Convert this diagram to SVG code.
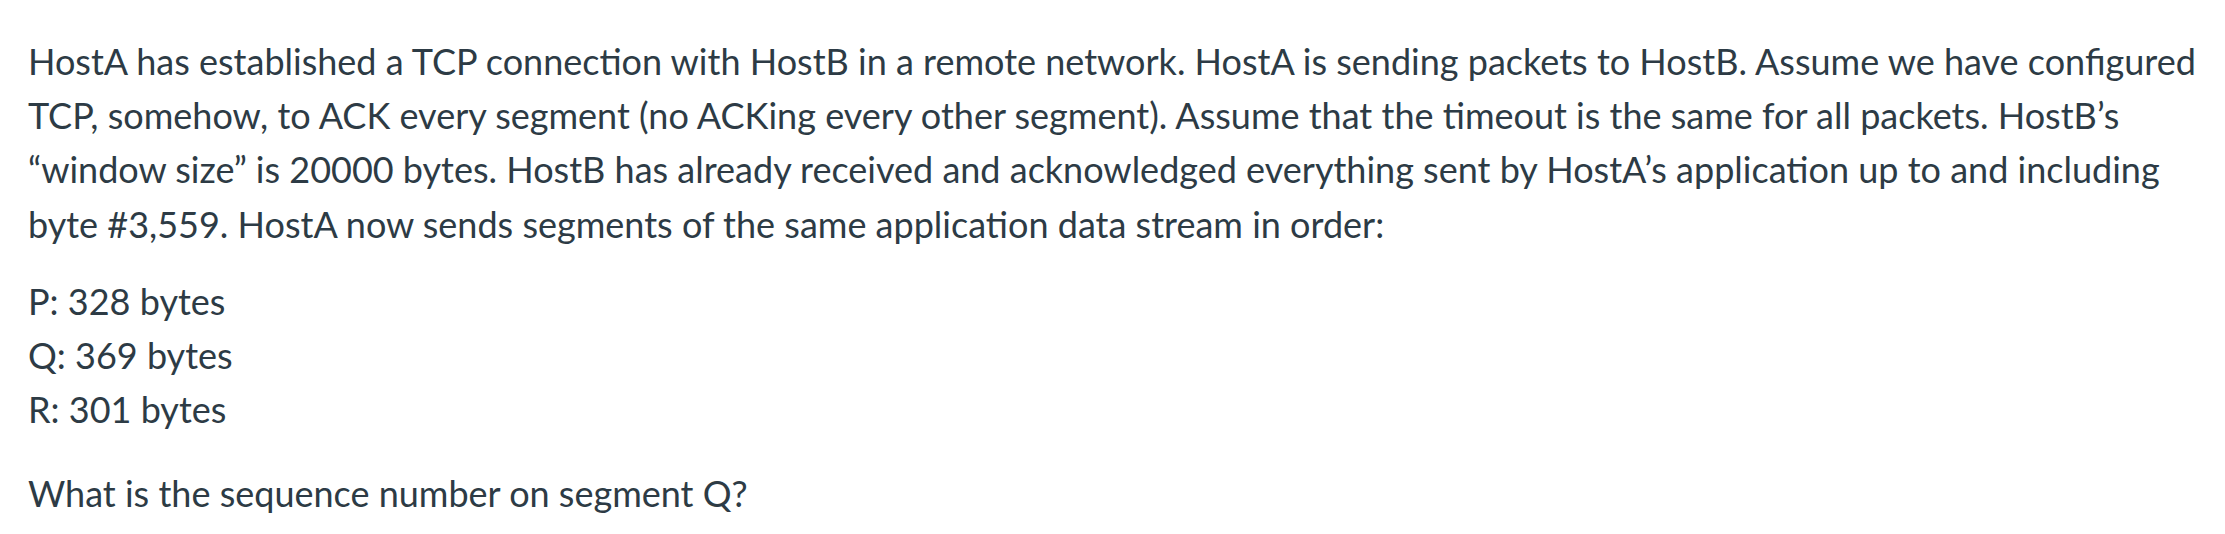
<svg xmlns="http://www.w3.org/2000/svg" width="2225" height="534" viewBox="0 0 2225 534">
<style>text{font-family:Lato,"Liberation Sans",sans-serif;font-size:36px;fill:#2d3b45}</style>
<rect width="2225" height="534" fill="#fff"/>
<text x="28" y="75">HostA has established a TCP connection with HostB in a remote network. HostA is sending packets to HostB. Assume we have configured</text>
<text x="28" y="129">TCP, somehow, to ACK every segment (no ACKing every other segment). Assume that the timeout is the same for all packets. HostB’s</text>
<text x="28" y="183">“window size” is 20000 bytes. HostB has already received and acknowledged everything sent by HostA’s application up to and including</text>
<text x="28" y="238">byte #3,559. HostA now sends segments of the same application data stream in order:</text>
<text x="28" y="315">P: 328 bytes</text>
<text x="28" y="369">Q: 369 bytes</text>
<text x="28" y="423">R: 301 bytes</text>
<text x="28" y="507">What is the sequence number on segment Q?</text>
</svg>
